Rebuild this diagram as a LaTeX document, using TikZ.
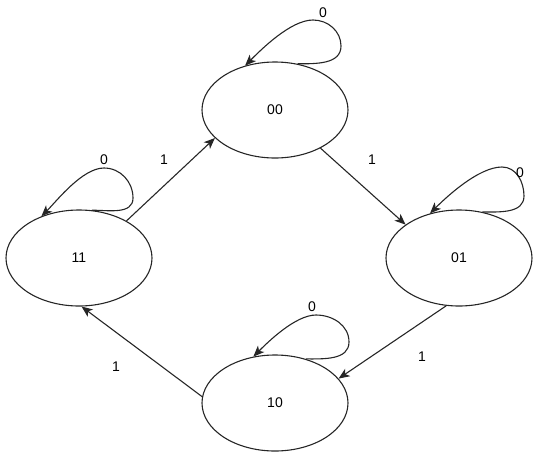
\documentclass[tikz,border=0pt]{standalone}
\usepackage{fontspec}
\setmainfont{Liberation Sans}
\usetikzlibrary{arrows.meta,shapes.geometric}
\begin{document}
\begin{tikzpicture}[x=1pt,y=-1pt,
  state/.style={draw=black!85, ellipse, line width=1.1pt, minimum width=146pt, minimum height=96pt, inner sep=0pt, font=\fontsize{14}{16}\selectfont},
  edge/.style={draw=black!85, line width=1.1pt, -{Stealth[length=11pt,width=9pt,inset=3pt]}},
  lbl/.style={font=\fontsize{14}{16}\selectfont, inner sep=0pt}]
\useasboundingbox (0,0) rectangle (536,459);
\node[state] (s00) at (275,110) {00};
\node[state] (s11) at (79,258) {11};
\node[state] (s01) at (459,258) {01};
\node[state] (s10) at (275,403) {10};
% self loops
\coordinate (r00) at (341,46);  \coordinate (t00) at (313,20);
\coordinate (r11) at (133,198); \coordinate (t11) at (104,168);
\coordinate (r01) at (524,196); \coordinate (t01) at (502,167);
\coordinate (r10) at (349,342); \coordinate (t10) at (316,315);
\draw[edge] (s00.64) to[out=0,in=-90] (r00) to[out=90,in=0] (t00) to[out=180,in=45,looseness=0.7] (s00.124);
\draw[edge] (s11.75) to[out=0,in=-90] (r11) to[out=90,in=0] (t11) to[out=180,in=45,looseness=0.7] (s11.132);
\draw[edge] (s01.63) to[out=0,in=-90] (r01) to[out=90,in=0] (t01) to[out=180,in=45,looseness=0.7] (s01.123);
\draw[edge] (s10.55) to[out=0,in=-90] (r10) to[out=90,in=0] (t10) to[out=180,in=45,looseness=0.7] (s10.115);
\node[lbl] (l00) at (323,13) {0};
\node[lbl] (l11) at (104,160) {0};
\node[lbl] (l01) at (520,173) {0};
\node[lbl] (l10) at (312,307) {0};
% transitions
\draw[edge] (s11.38) -- (s00.205);
\draw[edge] (s00.320) -- (s01.148);
\draw[edge] (s01.255) -- (s10.21);
\draw[edge] (s10.175) -- (s11.273);
\node[lbl] (e1) at (164,160) {1};
\node[lbl] (e2) at (372,160) {1};
\node[lbl] (e3) at (422,357) {1};
\node[lbl] (e4) at (116,367) {1};
\end{tikzpicture}
\end{document}
